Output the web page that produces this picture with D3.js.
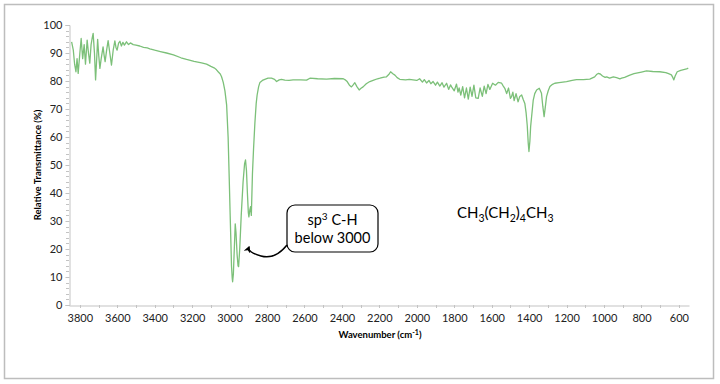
<!doctype html>
<html>
<head>
<meta charset="utf-8">
<title>IR spectrum of hexane</title>
<script src="https://d3js.org/d3.v7.min.js"></script>
<style>
  body { margin: 0; background: #fff; }
  text { font-family: Lato, "Open Sans", sans-serif; }
</style>
</head>
<body>
<script>

// spectrum (cm-1, %T)
const wavenumber = [
  3844, 3835, 3828, 3821, 3815, 3809, 3800, 3793, 3785, 3777, 3770, 3761, 3754, 3747, 3740, 3735,
  3729, 3722, 3716, 3710, 3705, 3699, 3693, 3686, 3676, 3670, 3665, 3657, 3649, 3640, 3631, 3622,
  3613, 3607, 3601, 3593, 3586, 3578, 3570, 3562, 3551, 3540, 3530, 3515, 3500, 3480, 3460, 3440,
  3426, 3400, 3370, 3337, 3300, 3260, 3230, 3190, 3150, 3123, 3100, 3080, 3070, 3060, 3050, 3043,
  3034, 3025, 3016, 3008, 3002, 2997, 2993, 2990, 2986, 2984, 2980, 2975, 2970, 2966, 2960, 2955,
  2952, 2946, 2938, 2928, 2920, 2915, 2910, 2905, 2900, 2897, 2892, 2888, 2884, 2878, 2872, 2865,
  2858, 2853, 2845, 2838, 2825, 2812, 2795, 2776, 2760, 2749, 2735, 2723, 2705, 2682, 2661, 2620,
  2589, 2571, 2530, 2482, 2440, 2393, 2380, 2372, 2360, 2349, 2340, 2331, 2320, 2308, 2298, 2287,
  2270, 2251, 2230, 2210, 2197, 2175, 2162, 2150, 2140, 2128, 2117, 2105, 2091, 2060, 2040, 2020,
  2000, 1985, 1970, 1960, 1948, 1935, 1925, 1913, 1900, 1890, 1877, 1865, 1855, 1841, 1830, 1820,
  1814, 1800, 1788, 1780, 1774, 1765, 1755, 1745, 1735, 1725, 1715, 1705, 1695, 1685, 1672, 1662,
  1650, 1640, 1630, 1620, 1610, 1595, 1580, 1565, 1547, 1538, 1530, 1520, 1510, 1500, 1494, 1487,
  1480, 1470, 1459, 1450, 1440, 1432, 1423, 1416, 1410, 1405, 1401, 1396, 1392, 1385, 1378, 1370,
  1360, 1346, 1340, 1334, 1327, 1320, 1313, 1307, 1298, 1289, 1275, 1263, 1240, 1220, 1200, 1170,
  1147, 1110, 1076, 1050, 1040, 1031, 1020, 1008, 994, 986, 970, 950, 933, 915, 906, 890,
  862, 840, 800, 773, 740, 702, 670, 655, 640, 632, 627, 620, 609, 590, 559, 550
];
const transmittance = [
  94.0, 91.0, 86.0, 83.3, 88.0, 82.7, 90.0, 95.2, 88.0, 93.0, 86.0, 94.6, 90.0, 86.4, 93.0, 95.0,
  97.0, 90.0, 80.4, 88.0, 94.9, 89.0, 84.5, 88.0, 92.2, 89.0, 86.9, 91.0, 94.4, 90.0, 85.7, 91.0,
  94.3, 92.0, 91.0, 93.5, 94.2, 92.5, 93.8, 92.8, 94.0, 93.0, 93.6, 93.0, 92.8, 92.5, 92.0, 91.8,
  91.5, 91.0, 90.5, 90.0, 89.3, 88.3, 87.7, 87.0, 86.5, 86.0, 85.2, 84.6, 84.0, 83.2, 82.5, 81.5,
  79.5, 76.5, 71.5, 60.0, 45.0, 32.0, 22.0, 14.0, 9.5, 8.3, 11.0, 20.0, 29.0, 26.0, 18.0, 14.0,
  13.7, 20.0, 32.0, 44.0, 50.5, 51.8, 48.0, 40.0, 33.0, 31.5, 34.0, 35.1, 32.0, 47.0, 56.0, 65.0,
  72.0, 75.0, 78.0, 79.5, 80.2, 80.6, 81.0, 81.0, 80.6, 79.8, 80.4, 80.6, 80.3, 80.2, 80.4, 80.4,
  80.3, 81.0, 80.8, 80.7, 80.9, 80.8, 80.3, 79.8, 78.5, 77.9, 78.6, 79.4, 78.0, 76.8, 77.4, 77.9,
  79.0, 79.8, 80.3, 80.8, 81.0, 81.4, 81.5, 82.3, 83.3, 82.6, 82.1, 81.2, 80.6, 80.4, 80.6, 80.4,
  80.2, 80.8, 79.6, 80.5, 79.3, 80.2, 79.0, 79.8, 78.5, 79.6, 78.2, 79.4, 77.8, 79.2, 77.0, 78.6,
  77.9, 76.5, 78.9, 76.0, 77.5, 75.0, 78.0, 74.0, 77.5, 73.5, 77.8, 74.5, 78.5, 74.0, 73.8, 77.5,
  74.5, 78.2, 75.5, 78.8, 77.0, 79.2, 78.5, 79.5, 79.2, 78.2, 77.4, 75.5, 77.5, 73.8, 74.4, 76.0,
  73.0, 75.5, 72.6, 74.5, 75.0, 73.5, 72.0, 68.5, 64.0, 58.0, 54.8, 58.5, 63.7, 68.5, 73.2, 75.5,
  76.8, 77.4, 76.5, 75.6, 71.0, 67.3, 71.0, 74.4, 76.5, 78.0, 78.8, 79.2, 79.4, 79.6, 79.8, 80.2,
  80.5, 80.5, 80.7, 81.5, 82.3, 82.7, 82.5, 81.8, 81.3, 81.5, 81.0, 81.5, 81.2, 80.8, 81.0, 81.3,
  82.1, 82.6, 83.2, 83.6, 83.4, 83.3, 83.0, 82.6, 82.2, 81.2, 80.4, 81.8, 83.3, 83.8, 84.3, 84.6
];

const xTicks = [3800, 3600, 3400, 3200, 3000, 2800, 2600, 2400, 2200, 2000, 1800, 1600, 1400, 1200, 1000, 800, 600];
const yTicks = [0, 10, 20, 30, 40, 50, 60, 70, 80, 90, 100];

const w = 720, h = 384;
const svg = d3.select("body").append("svg")
  .attr("width", w)
  .attr("height", h);

// outer frame
svg.append("rect")
  .attr("x", 4.5).attr("y", 4.5)
  .attr("width", 709).attr("height", 374)
  .attr("fill", "none")
  .attr("stroke", "#bdbdbd")
  .attr("stroke-width", 1.5);

const x = d3.scaleLinear().domain([3858, 546]).range([69, 689]);
const y = d3.scaleLinear().domain([0, 100]).range([305, 25]);

// minor ticks
const axisColor = "#c3c3c3";
svg.append("g")
  .selectAll("line")
  .data(d3.range(0, 101, 2))
  .join("line")
  .attr("x1", 66).attr("x2", 69)
  .attr("y1", d => Math.round(y(d)) + 0.5).attr("y2", d => Math.round(y(d)) + 0.5)
  .attr("stroke", axisColor);

svg.append("g")
  .selectAll("line")
  .data(d3.range(3800, 599, -100))
  .join("line")
  .attr("x1", d => Math.round(x(d)) + 0.5).attr("x2", d => Math.round(x(d)) + 0.5)
  .attr("y1", 305).attr("y2", 308)
  .attr("stroke", axisColor);

// y axis
const yAxis = svg.append("g")
  .attr("transform", "translate(69.5,0)")
  .call(d3.axisLeft(y).tickValues(yTicks).tickSize(4).tickPadding(3));
// x axis
const xAxis = svg.append("g")
  .attr("transform", "translate(0,305.5)")
  .call(d3.axisBottom(x).tickValues(xTicks).tickSize(0).tickPadding(9).tickFormat(d3.format("d")));

[yAxis, xAxis].forEach(g => {
  g.select(".domain").attr("stroke", axisColor);
  g.selectAll(".tick line").attr("stroke", axisColor);
  g.selectAll(".tick text")
    .attr("fill", "#222")
    .style("font-size", "11px")
    .style("font-family", "Lato, 'Open Sans', sans-serif");
});

// axis titles
svg.append("text")
  .attr("transform", "translate(41,165) rotate(-90)")
  .attr("text-anchor", "middle")
  .style("font-size", "9.5px")
  .style("font-weight", "bold")
  .text("Relative Transmittance (%)");

const xt = svg.append("text")
  .attr("x", 380).attr("y", 338)
  .attr("text-anchor", "middle")
  .style("font-size", "9.5px")
  .style("font-weight", "bold");
xt.append("tspan").text("Wavenumber (cm");
xt.append("tspan").attr("dy", -3).style("font-size", "7px").text("-1");
xt.append("tspan").attr("dy", 3).text(")");

// spectrum
const pts = wavenumber.map((d, i) => [d, transmittance[i]]);
const line = d3.line()
  .x(d => x(d[0]))
  .y(d => y(d[1]))
  .curve(d3.curveLinear);

svg.append("path")
  .datum(pts)
  .attr("d", line)
  .attr("fill", "none")
  .attr("stroke", "#7cc079")
  .attr("stroke-width", 1.3)
  .attr("stroke-linejoin", "round");

// annotation box
const boxX = 287, boxY = 205, boxW = 91, boxH = 47;
svg.append("rect")
  .attr("x", boxX).attr("y", boxY)
  .attr("width", boxW).attr("height", boxH)
  .attr("rx", 8)
  .attr("fill", "#fff")
  .attr("stroke", "#000")
  .attr("stroke-width", 1.2);

const t1 = svg.append("text")
  .attr("x", boxX + boxW / 2).attr("y", boxY + 20)
  .attr("text-anchor", "middle")
  .style("font-size", "14.5px");
t1.append("tspan").text("sp");
t1.append("tspan").attr("dy", -5).style("font-size", "10px").text("3");
t1.append("tspan").attr("dy", 5).text(" C-H");

svg.append("text")
  .attr("x", boxX + boxW / 2).attr("y", boxY + 38)
  .attr("text-anchor", "middle")
  .style("font-size", "14.5px")
  .text("below 3000");

// curved arrow
svg.append("defs").append("marker")
  .attr("id", "head")
  .attr("viewBox", "0 0 10 10")
  .attr("refX", 8).attr("refY", 5)
  .attr("markerWidth", 7).attr("markerHeight", 7)
  .attr("markerUnits", "userSpaceOnUse")
  .attr("orient", "auto")
  .append("path")
  .attr("d", "M0,0 L10,5 L0,10 L3,5 Z")
  .attr("fill", "#000");

svg.append("path")
  .attr("d", `M${boxX},${boxY + 40} Q${boxX - 12},${boxY + 55} ${boxX - 26},${boxY + 51} T${boxX - 38},${boxY + 42}`)
  .attr("fill", "none")
  .attr("stroke", "#000")
  .attr("stroke-width", 1.5)
  .attr("marker-end", "url(#head)");

// formula
const f = svg.append("text")
  .attr("x", 457).attr("y", 218)
  .style("font-size", "15px");
f.append("tspan").text("CH");
f.append("tspan").attr("dy", 4).style("font-size", "10.5px").text("3");
f.append("tspan").attr("dy", -4).text("(CH");
f.append("tspan").attr("dy", 4).style("font-size", "10.5px").text("2");
f.append("tspan").attr("dy", -4).text(")");
f.append("tspan").attr("dy", 4).style("font-size", "10.5px").text("4");
f.append("tspan").attr("dy", -4).text("CH");
f.append("tspan").attr("dy", 4).style("font-size", "10.5px").text("3");

</script>
</body>
</html>
